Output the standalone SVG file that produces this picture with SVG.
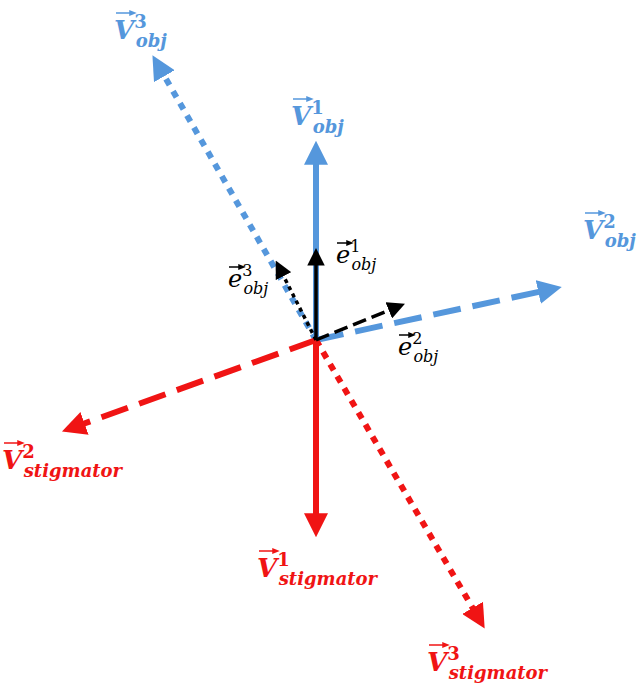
<svg xmlns="http://www.w3.org/2000/svg" width="637" height="685" viewBox="0 0 637 685">
<style>
.b{stroke:#5597dc;fill:none;stroke-width:6}
.r{stroke:#f01414;fill:none;stroke-width:6}
.k{stroke:#000;fill:none;stroke-width:3.5}
.lb{font-family:"DejaVu Serif",serif;font-style:italic;font-weight:bold;fill:#5597dc}
.lr{font-family:"DejaVu Serif",serif;font-style:italic;font-weight:bold;fill:#f01414}
.lk{font-family:"DejaVu Serif",serif;font-style:italic;fill:#000}
.sup{font-style:normal}
.acc{stroke-width:1.5;fill:none}
</style>
<defs>
<marker id="ab" viewBox="0 0 10 10" refX="2" refY="5" markerWidth="4" markerHeight="4" orient="auto" markerUnits="strokeWidth"><path d="M0,0L10,5L0,10z" fill="#5597dc"/></marker>
<marker id="ar" viewBox="0 0 10 10" refX="2" refY="5" markerWidth="4" markerHeight="4" orient="auto" markerUnits="strokeWidth"><path d="M0,0L10,5L0,10z" fill="#f01414"/></marker>
<marker id="ak" viewBox="0 0 10 10" refX="2" refY="5" markerWidth="5" markerHeight="5" orient="auto" markerUnits="strokeWidth"><path d="M0,0L10,5L0,10z" fill="#000"/></marker>
<marker id="sa" viewBox="0 0 10 10" refX="5" refY="5" markerWidth="5" markerHeight="5" orient="auto" markerUnits="strokeWidth"><path d="M0,1L10,5L0,9z" fill="context-stroke"/></marker>
</defs>
<g id="connectors">
<line class="b" x1="316" y1="340" x2="316" y2="160" marker-end="url(#ab)"/>
<line class="b" x1="316" y1="340" x2="162" y2="72" stroke-dasharray="7 7" marker-end="url(#ab)"/>
<line class="b" x1="316" y1="340" x2="543" y2="291" stroke-dasharray="28 12" marker-end="url(#ab)"/>
<line class="r" x1="316" y1="340" x2="316" y2="518" marker-end="url(#ar)"/>
<line class="r" x1="316" y1="340" x2="80" y2="425" stroke-dasharray="28 12" marker-end="url(#ar)"/>
<line class="r" x1="316" y1="340" x2="475" y2="612" stroke-dasharray="7 7" marker-end="url(#ar)"/>
<line class="k" x1="316" y1="340" x2="316" y2="262" marker-end="url(#ak)"/>
<line class="k" x1="316" y1="340" x2="282" y2="273" stroke-dasharray="4 4" marker-end="url(#ak)"/>
<line class="k" x1="316" y1="340" x2="392" y2="309" stroke-dasharray="14 6" marker-end="url(#ak)"/>
</g>
<g id="V1obj"><line class="acc" stroke="#5597dc" x1="293" y1="99" x2="310" y2="99" marker-end="url(#sa)"/><text class="lb" x="291" y="125" font-size="26">V<tspan class="sup" font-size="18" dy="-11">1</tspan><tspan font-size="18" dx="-11" dy="19">obj</tspan></text></g>
<g id="V2obj"><line class="acc" stroke="#5597dc" x1="585" y1="213" x2="602" y2="213" marker-end="url(#sa)"/><text class="lb" x="583" y="239" font-size="26">V<tspan class="sup" font-size="18" dy="-11">2</tspan><tspan font-size="18" dx="-11" dy="19">obj</tspan></text></g>
<g id="V3obj"><line class="acc" stroke="#5597dc" x1="116" y1="13" x2="133" y2="13" marker-end="url(#sa)"/><text class="lb" x="114" y="39" font-size="26">V<tspan class="sup" font-size="18" dy="-11">3</tspan><tspan font-size="18" dx="-11" dy="19">obj</tspan></text></g>
<g id="V1st"><line class="acc" stroke="#f01414" x1="259" y1="551" x2="276" y2="551" marker-end="url(#sa)"/><text class="lr" x="257" y="577" font-size="26">V<tspan class="sup" font-size="18" dy="-11">1</tspan><tspan font-size="18" dx="-11" dy="19">stigmator</tspan></text></g>
<g id="V2st"><line class="acc" stroke="#f01414" x1="4" y1="443" x2="21" y2="443" marker-end="url(#sa)"/><text class="lr" x="2" y="469" font-size="26">V<tspan class="sup" font-size="18" dy="-11">2</tspan><tspan font-size="18" dx="-11" dy="19">stigmator</tspan></text></g>
<g id="V3st"><line class="acc" stroke="#f01414" x1="429" y1="645" x2="446" y2="645" marker-end="url(#sa)"/><text class="lr" x="427" y="671" font-size="26">V<tspan class="sup" font-size="18" dy="-11">3</tspan><tspan font-size="18" dx="-11" dy="19">stigmator</tspan></text></g>
<g id="e1"><line class="acc" stroke="#000" x1="337" y1="243" x2="350" y2="243" marker-end="url(#sa)"/><text class="lk" x="336" y="263" font-size="24">e<tspan class="sup" font-size="16" dy="-11">1</tspan><tspan font-size="16" dx="-9" dy="18">obj</tspan></text></g>
<g id="e2"><line class="acc" stroke="#000" x1="399" y1="335" x2="412" y2="335" marker-end="url(#sa)"/><text class="lk" x="398" y="355" font-size="24">e<tspan class="sup" font-size="16" dy="-11">2</tspan><tspan font-size="16" dx="-9" dy="18">obj</tspan></text></g>
<g id="e3"><line class="acc" stroke="#000" x1="229" y1="267" x2="242" y2="267" marker-end="url(#sa)"/><text class="lk" x="228" y="287" font-size="24">e<tspan class="sup" font-size="16" dy="-11">3</tspan><tspan font-size="16" dx="-9" dy="18">obj</tspan></text></g>
</svg>
